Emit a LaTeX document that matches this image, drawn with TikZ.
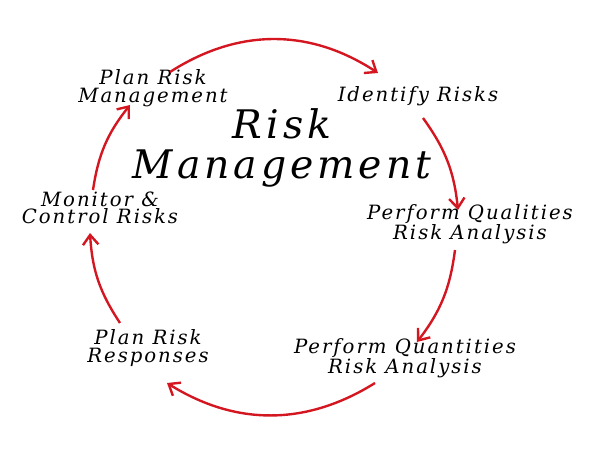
\documentclass[tikz,border=0pt]{standalone}
\usepackage{fontspec}
\newfontfamily\handfont[LetterSpace=10]{DejaVu Serif}
\usetikzlibrary{arrows.meta}
\definecolor{cyclered}{RGB}{212,22,32}
\begin{document}
\begin{tikzpicture}[x=0.025cm,y=0.025cm,>={Straight Barb[length=7pt,width=11pt]},
	stage/.style={font={\handfont\itshape\fontsize{14}{12.5}\selectfont},align=center,inner sep=0pt},
	cycle/.style={->,draw=cyclered,line width=1.7pt}]
					\useasboundingbox (0,0) rectangle (600,456);
					\node[font={\handfont\itshape\fontsize{28}{29}\selectfont},align=center] (title) at (282,308) {Risk\\Management};
					\node[stage] (pm) at (153,368) {Plan Risk\\Management};
					\node[stage] (ir) at (418,360) {Identify Risks};
					\node[stage] (pq) at (470,232) {Perform Qualities\\Risk Analysis};
					\node[stage] (pn) at (405,98) {Perform Quantities\\Risk Analysis};
					\node[stage] (pr) at (148,108) {Plan Risk\\Responses};
					\node[stage] (mc) at (100,248) {Monitor \&\\Control Risks};
					\draw[cycle] ([shift={(17,16)}]pm.center) to[bend left=33] ([shift={(-40,23)}]ir.center);
					\draw[cycle] ([shift={(5,-22)}]ir.center) to[bend left=15] ([shift={(-12,14)}]pq.center);
					\draw[cycle] ([shift={(-15,-26)}]pq.center) to[bend left=15] ([shift={(12,16)}]pn.center);
					\draw[cycle] ([shift={(-30,-25)}]pn.center) to[bend left=32] ([shift={(19,-35)}]pr.center);
					\draw[cycle] ([shift={(-28,25)}]pr.center) to[bend left=15] ([shift={(-10,-25)}]mc.center);
					\draw[cycle] ([shift={(-7,18)}]mc.center) to[bend left=15] ([shift={(-23,-17)}]pm.center);
				\end{tikzpicture}
\end{document}
